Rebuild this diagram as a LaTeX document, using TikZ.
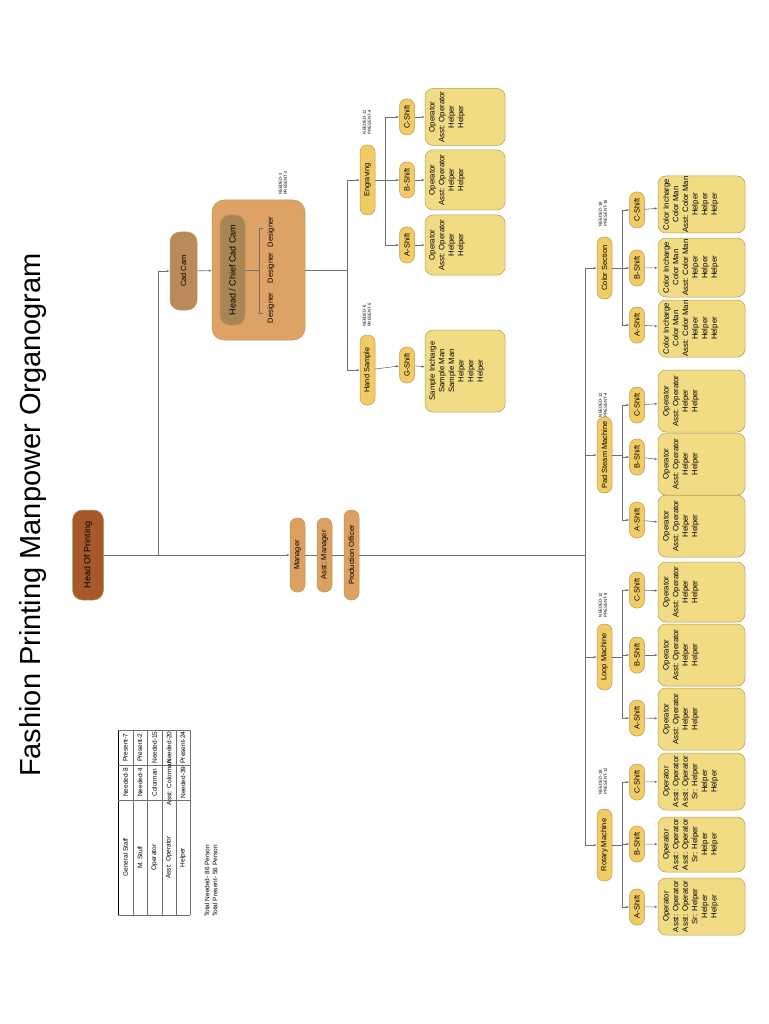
\documentclass[tikz,border=0pt]{standalone}
\usepackage{fontspec}
\setmainfont{Liberation Sans}
\usetikzlibrary{arrows.meta}
\definecolor{detfill}{HTML}{F1DC84}
\definecolor{detdraw}{HTML}{B39A55}
\definecolor{secfill}{HTML}{F2CB64}
\definecolor{headfill}{HTML}{A8592B}
\definecolor{mgrfill}{HTML}{DCA062}
\definecolor{cadfill}{HTML}{B98B5B}
\definecolor{bigfill}{HTML}{DEA166}
\definecolor{chieffill}{HTML}{A98556}
\definecolor{linec}{HTML}{707070}
\tikzset{
 base/.style={rotate=90,draw=detdraw,line width=0.5pt,inner sep=1pt,align=center,font=\fontsize{7.5}{9}\selectfont},
 secbox/.style={base,fill=secfill,rounded corners=7pt,minimum height=15},
 shiftbox/.style={base,fill=secfill,rounded corners=7pt,minimum height=15,minimum width=36},
 detbox/.style={base,fill=detfill,rounded corners=8pt,minimum height=87},
 dtext/.style={rotate=90,anchor=north,align=center,inner sep=0pt,font=\fontsize{7.8}{9.6}\selectfont},
 tiny/.style={rotate=90,align=left,inner sep=0pt,font=\fontsize{4.3}{5}\selectfont},
 conn/.style={draw=linec,line width=0.6pt},
 arr/.style={conn,-{Latex[length=3pt,width=2.5pt]}},
 ttext/.style={rotate=90,inner sep=0pt,font=\fontsize{6.5}{7}\selectfont}
}
\newcommand{\dbox}[5]{%
 \node[detbox,minimum width={#4-#3}] (#1) at (701.5,{(#3+#4)/2}) {};
 \node[dtext] at (#2,{(#3+#4)/2}) {#5};}
\begin{document}
\begin{tikzpicture}[x=1pt,y=-1pt]
\useasboundingbox (0,0) rectangle (768,1024);
% title
\node[rotate=90,font=\fontsize{29}{34}\selectfont] (title) at (33,515) {Fashion Printing Manpower Organogram};
% table
\foreach \x in {118,133,147,162,176,190} \draw[linec,line width=0.5pt] (\x,730) -- (\x,915);
\draw[line width=1pt] (118,730) -- (118,915);
\foreach \y in {730,765,800,915} \draw[linec,line width=0.5pt] (118,\y) -- (190,\y);
\foreach \x/\a/\b/\c in {125.5/General Staff/Needed-8/Present-7,140/M. Stuff/Needed-4/Present-2,154.5/Operator/Colorman/Needed-15/Present-10,169/Asst: Operator/Asst: Colorman/Needed-20/Present-12,183/Helper/Needed-39/Present-24}{
 \node[ttext] at (\x,857.5) {\a};
 \node[ttext] at (\x,782.5) {\b};
 \node[ttext] at (\x,747.5) {\c};}
\node[ttext,anchor=west] (tn) at (207,917) {Total Needed- 86 Person};
\node[ttext,anchor=west] (tp) at (215,917) {Total Present- 56 Person};
% head
\node[base,fill=headfill,rounded corners=10pt,minimum width=90,minimum height=31,font=\fontsize{9}{10}\selectfont] (head) at (88,555) {Head Of Printing};
\node[base,fill=mgrfill,rounded corners=7pt,minimum width=74,minimum height=15] (mgr) at (297.5,555) {Manager};
\node[base,fill=mgrfill,rounded corners=7pt,minimum width=74,minimum height=15] (amgr) at (324.5,555) {Asst: Manager};
\node[base,fill=mgrfill,rounded corners=7pt,minimum width=90,minimum height=15] (po) at (351.5,555) {Production Officer};
\coordinate (j1) at (158,555);
\draw[conn] (head) -- (j1);
\draw[arr] (j1) -- (mgr);
\draw[conn] (mgr) -- (amgr);
\draw[conn] (amgr) -- (po);
% cad cam
\node[base,fill=cadfill,rounded corners=10pt,minimum width=78,minimum height=27] (cad) at (183.5,271) {Cad Cam};
\draw[arr] (j1) |- (cad);
\node[base,fill=bigfill,rounded corners=12pt,minimum width=140,minimum height=93] (big) at (258.5,270) {};
\node[base,fill=chieffill,rounded corners=10pt,minimum width=110,minimum height=25,font=\fontsize{9}{10}\selectfont] (chief) at (232.5,270) {Head / Chief Cad Cam};
\draw[arr] (cad) -- (big);
\foreach \y/\n in {308/d1,268/d2,232/d3} \node[rotate=90,font=\fontsize{7.5}{9}\selectfont,inner sep=1pt] (\n) at (271,\y) {Designer};
\coordinate (br) at (259,270);
\draw[conn] (chief) -- (br);
\draw[conn] (259,228) -- (259,313);
\draw[conn] (259,228) -- (263,228); \draw[conn] (259,313) -- (263,313);
\node[tiny] at (283,183) {NEEDED-3\\PRESENT-2};
% engraving / hand sample
\node[secbox,minimum width=70] (eng) at (367.5,180) {Engraving};
\node[secbox,minimum width=70] (hs) at (367.5,370) {Hand Sample};
\coordinate (j2) at (347,270);
\draw[conn] (big) -- (j2);
\draw[arr] (j2) |- (eng);
\draw[arr] (j2) |- (hs);
\node[tiny] at (367,122) {NEEDED-12\\PRESENT-4};
\node[tiny] at (367,315) {NEEDED-6\\PRESENT-5};
\coordinate (je) at (385,180);
\draw[conn] (eng) -- (je);
\draw[conn] (385,117) -- (385,245);
\foreach \n/\y/\l/\t/\b in {ea/245/A/215/275,eb/180/B/150/210,ec/117/C/88/145}{
 \node[shiftbox] (\n) at (407,\y) {\l-Shift};
 \coordinate (\n j) at (385,\y);
 \draw[arr] (\n j) -- (\n);
 \node[base,fill=detfill,rounded corners=8pt,minimum height=80,minimum width={\b-\t}] (\n d) at (465,\y) {};
 \node[dtext] at (429,\y) {Operator\\Asst: Operator\\Helper\\Helper};
 \draw[arr] (\n) -- (\n d);}
\node[shiftbox] (gs) at (407,365) {G-Shift};
\draw[arr] (hs) -- (gs);
\node[base,fill=detfill,rounded corners=8pt,minimum height=80,minimum width=82] (gsd) at (465,371) {};
\node[dtext] at (429,371) {Sample Incharge\\Sample Man\\Sample Man\\Helper\\Helper\\Helper};
\draw[arr] (gs) -- (gsd);
% main bus
\coordinate (jb) at (585,555);
\draw[conn] (po) -- (jb);
\draw[conn] (585,268) -- (585,845);
\foreach \n/\y/\t/\ny in {rot/845/{NEEDED-18\\PRESENT-12}/781,loop/657/{NEEDED-12\\PRESENT-8}/605,pad/455/{NEEDED-12\\PRESENT-4}/405,col/268/{NEEDED-18\\PRESENT-16}/213}{
 \coordinate (\n j) at (585,\y);
 \coordinate (\n k) at (622,\y);
 \node[tiny] at (603,\ny) {\t};}
\node[secbox,minimum width=72] (rot) at (604.5,845) {Rotary Machine};
\node[secbox,minimum width=66] (loop) at (604.5,657) {Loop Machine};
\node[secbox,minimum width=76] (pad) at (604.5,455) {Pad Steam Machine};
\node[secbox,minimum width=62] (col) at (604.5,268) {Color Section};
\draw[arr] (rotj) -- (rot); \draw[conn] (rot) -- (rotk);
\draw[arr] (loopj) -- (loop); \draw[conn] (loop) -- (loopk);
\draw[arr] (padj) -- (pad); \draw[conn] (pad) -- (padk);
\draw[arr] (colj) -- (col); \draw[conn] (col) -- (colk);
% shifts
\def\rotT{Operator\\Asst: Operator\\Asst: Operator\\Sr: Helper\\Helper\\Helper}
\def\opT{Operator\\Asst: Operator\\Helper\\Helper}
\def\colT{Color Incharge\\Color Man\\Asst: Color Man\\Helper\\Helper\\Helper}
\foreach \n/\y/\l/\t/\b/\txt in {ra/907/A/878/935/\rotT,rb/844/B/817/872/\rotT,rc/782/C/753/810/\rotT,
 la/718/A/688/750/\opT,lb/655/B/624/686/\opT,lc/590/C/562/622/\opT,
 pa/520/A/495/557/\opT,pb/457/B/433/495/\opT,pc/405/C/370/432/\opT,
 ca/325/A/300/357/\colT,cb/268/B/238/297/\colT,cc/210/C/176/233/\colT}{
 \node[shiftbox] (\n) at (637,\y) {\l-Shift};
 \coordinate (\n j) at (622,\y);
 \draw[arr] (\n j) -- (\n);
 \dbox{\n d}{663}{\t}{\b}{\txt}
 \draw[arr] (\n) -- (\n d);}
\draw[conn] (raj) -- (rcj);
\draw[conn] (laj) -- (lcj);
\draw[conn] (paj) -- (pcj);
\draw[conn] (caj) -- (ccj);
\end{tikzpicture}
\end{document}
